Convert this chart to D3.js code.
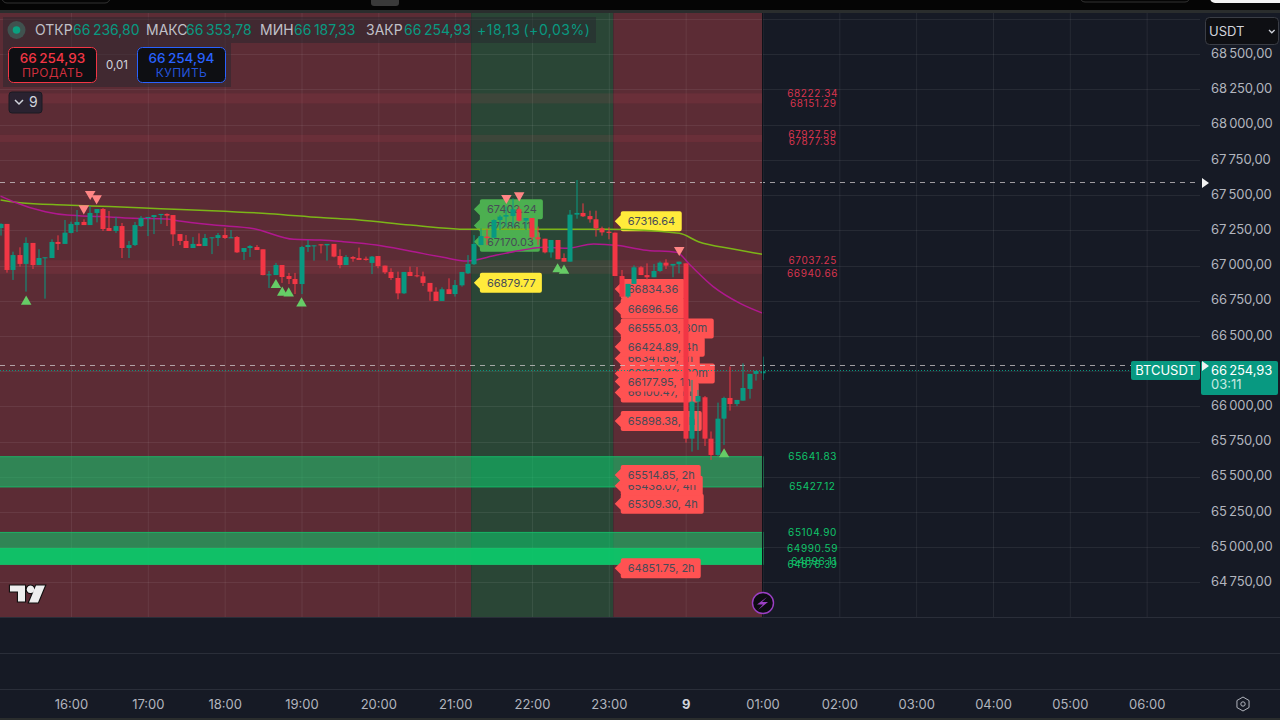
<!DOCTYPE html>
<html><head><meta charset="utf-8">
<script src="https://cdnjs.cloudflare.com/ajax/libs/d3/7.9.0/d3.min.js"></script>
<style>html,body{margin:0;padding:0;background:#000;overflow:hidden}svg{display:block}text{font-family:Inter,Roboto,sans-serif}</style>
</head><body><svg id="c" width="1280" height="720"></svg>
<script>
// Candles every 5 minutes, first one at 15:05
const opens=[67257,67286,66959,67065,67002,67151,66994,67044,67044,67158,
67144,67222,67278,67300,67278,67364,67392,67257,67236,67271,
67115,67136,67271,67328,67335,67349,67357,67349,67214,67165,
67115,67144,67129,67186,67186,67207,67186,67193,67087,67115,
67122,67106,66923,66923,66994,66916,66895,66859,67122,67129,
67141,67134,67144,67058,66994,67051,67044,67039,67009,67058,
66990,66945,66902,66793,66945,66921,66914,66867,66805,66739,
66822,66788,66850,66935,67000,67136,67196,67188,67314,67338,
67342,67390,67309,67328,67191,67181,67084,67172,67044,67018,
67352,67364,67342,67319,67255,67231,67224,66916,66770,66860,
66978,66923,66907,66952,67011,66990,67000,67006,65761,66024,
66055,65761,65645,65903,66050,66007,66031,66114,66221,66225];
const highs=[67290,67286,67089,67120,67191,67151,67106,67049,67177,67205,
67314,67302,67385,67319,67413,67392,67399,67378,67335,67293,
67165,67300,67342,67335,67349,67357,67361,67349,67214,67207,
67193,67219,67215,67191,67222,67257,67243,67200,67115,67136,
67136,67106,66952,67009,66994,66938,66938,67129,67172,67134,
67141,67144,67144,67106,67065,67058,67118,67054,67058,67058,
66990,66971,66947,66945,66983,66980,66947,66867,66836,66836,
66900,66888,66945,67065,67207,67255,67248,67319,67349,67409,
67468,67409,67328,67328,67267,67181,67172,67172,67077,67385,
67598,67432,67380,67380,67267,67262,67224,66959,66860,66992,
66987,67006,67002,67020,67035,67002,67018,67006,66178,66107,
66064,65812,66017,66059,66273,66036,66296,66221,66242,66344];
const lows=[67203,66940,66888,66983,66805,66966,66994,66755,67044,67101,
67144,67219,67229,67278,67278,67297,67236,67236,67222,67044,
67044,67129,67264,67200,67214,67286,67271,67129,67136,67115,
67115,67129,67129,67072,67129,67179,67186,67080,67030,67051,
67101,66921,66831,66923,66867,66859,66788,66788,67087,67025,
67077,67025,67049,66971,66994,67018,67030,67025,66930,66971,
66930,66888,66751,66788,66916,66907,66845,66741,66739,66739,
66788,66770,66841,66930,66994,67136,67136,67186,67243,67267,
67267,67302,67243,67172,67136,67077,67046,67035,67018,67018,
67323,67335,67295,67196,67203,67177,66916,66770,66760,66860,
66923,66888,66907,66945,66966,66907,66935,65733,65669,65681,
65709,65610,65638,65716,65960,65993,66031,66045,66173,66178];
const closes=[67286,66959,67065,67002,67151,66994,67044,67049,67158,67144,
67224,67286,67300,67278,67364,67392,67250,67236,67271,67115,
67136,67278,67328,67335,67349,67357,67345,67212,67165,67115,
67144,67129,67186,67191,67207,67186,67191,67084,67115,67129,
67101,66923,66928,66994,66909,66895,66859,67122,67136,67134,
67136,67144,67054,66994,67051,67039,67030,67030,67054,66987,
66942,66902,66793,66945,66916,66916,66867,66805,66739,66822,
66788,66852,66945,67002,67144,67200,67186,67314,67338,67349,
67390,67309,67328,67191,67177,67084,67172,67035,67018,67352,
67364,67340,67319,67255,67226,67222,66916,66770,66860,66978,
66923,66907,66952,67011,66990,67002,67018,65761,66024,66064,
65761,65645,65903,66050,66007,66036,66121,66221,66242,66240];

const maSlowBars=[0,3,10,17,25,33,42,50,56,64,73,83,95,106,109,114.4,119];
const maSlowVals=[67456,67437,67420,67409,67394,67380,67359,67331,67314,67278,67248,67248,67248,67219,67160,67108,67070];
const maFastBars=[0,2,7,10.4,15.6,20.8,26,27.6,33.3,39.6,45.8,50,53.5,58.7,63.9,69.1,72.8,77.5,81.6,84.8,88.4,92.6,96.5,100.4,105.6,107.7,111.3,115.5,119.1];
const maFastVals=[67484,67444,67373,67349,67338,67326,67321,67309,67278,67252,67177,67172,67160,67136,67094,67049,67023,67065,67101,67120,67113,67144,67132,67101,67084,66994,66841,66722,66651];

const priceTicks=[68500,68250,68000,67750,67500,67250,67000,66750,66500,66250,66000,65750,65500,65250,65000,64750];
const hourTicks=[60,120,180,240,300,360,420,480,540,600,660,720,780,840,900];
const hourLabels=["16:00","17:00","18:00","19:00","20:00","21:00","22:00","23:00","9","01:00","02:00","03:00","04:00","05:00","06:00"];

const redLevels=[68222.34,68151.29,67927.59,67877.35,67037.25,66940.66];
const redLevelX=[838,836.5,836.5,836.5,837,838];
const greenLevels=[65641.83,65427.12,65104.90,64990.59,64896.11,64876.39];
const greenLevelX=[837,835.5,837,838,837,837.5];

const redTags=[[64851.75,"2h"],[65309.30,"4h"],[65438.07,"4h"],[65514.85,"2h"],[65898.38,"1h"],[66100.47,"1h"],[66235.42,"30m"],[66177.95,"1h"],[66341.69,"1h"],[66424.89,"4h"],[66555.03,"30m"],[66696.56,""],[66834.36,""]];
const greenTags=[67170.03,67286.11,67402.24];
const yellowTags=[[74,66879.77],[96,67316.64]];
const guidePrices=[67590,66290];
const downBars=[13,14,15,79,81,106];
const downVals=[67397,67499,67468,67470,67489,67101];
const upBars=[4,43,44,45,47,87,88,113];
const upVals=[66734,66852,66798,66793,66722,66964,66954,65650];

const C={bgD:"#161a25",red:"#f23645",grn:"#089981",zoneR:"#5c2c35",zoneG:"#2a4636",txt:"#b2b5be"};
const svg=d3.select("#c");
const x=d3.scaleLinear().domain([60,600]).range([71,762.5]);
const y=d3.scaleLinear().domain([68500,64750]).range([53,581]);
const barX=i=>x(5+5*i);
const lvl=p=>y(p)+1.3; // levels and guides sit on the pixel row below the price
const fmt=d3.formatLocale({decimal:",",thousands:"\u2009",grouping:[3],currency:["",""]}).format(",.2f");

// page frame
svg.append("rect").attr("width",1280).attr("height",720).attr("fill",C.bgD);
svg.append("rect").attr("width",1280).attr("height",10).attr("fill","#050505");
svg.append("rect").attr("y",10).attr("width",1280).attr("height",3).attr("fill","#2a2d2d");
svg.append("rect").attr("x",2).attr("y",-8).attr("width",108).attr("height",11).attr("rx",5).attr("fill","none").attr("stroke","#333");
svg.append("rect").attr("x",371).attr("y",-5).attr("width",28).attr("height",11).attr("rx",3).attr("fill","#3a3a3a");
svg.append("rect").attr("x",1080).attr("y",-8).attr("width",110).attr("height",10).attr("rx",5).attr("fill","none").attr("stroke","#333");
svg.append("rect").attr("x",1210).attr("y",-8).attr("width",80).attr("height",11).attr("rx",5).attr("fill","#f2f2f2");

// time zones
const zones=[[0,372.5,C.zoneR],[372.5,483.5,C.zoneG],[483.5,600,C.zoneR]];
svg.append("g").selectAll("rect").data(zones).join("rect")
 .attr("x",d=>Math.max(0,x(d[0]))).attr("width",d=>x(d[1])-Math.max(0,x(d[0]))).attr("y",13).attr("height",604).attr("fill",d=>d[2]);

// grid
const grid=svg.append("g").attr("stroke","#fff").attr("stroke-opacity",.07);
grid.selectAll(".v").data(hourTicks).join("line").attr("x1",d=>x(d)+.5).attr("x2",d=>x(d)+.5).attr("y1",13).attr("y2",617);
grid.selectAll(".h").data([68750].concat(priceTicks)).join("line").attr("x1",0).attr("x2",1200).attr("y1",d=>Math.round(lvl(d))+.5).attr("y2",d=>Math.round(lvl(d))+.5);

// bands
const bands=[[68222.34,68151.29,"#ff5060",.09,null],[67927.59,67877.35,"#ff5060",.09,null],[67037.25,66940.66,"#ff5060",.09,null],
 [65641.83,65427.12,"#0cd070",.55,"#14c46c"],[65104.90,64990.59,"#0cd070",.55,"#14c46c"],[64990.59,64876.39,"#0cc86a",.95,"#14c46c"]];
svg.append("g").selectAll("rect").data(bands).join("rect")
 .attr("x",-3).attr("width",766).attr("y",d=>lvl(d[0])).attr("height",d=>lvl(d[1])-lvl(d[0]))
 .attr("fill",d=>d[2]).attr("fill-opacity",d=>d[3]).attr("stroke",d=>d[4]||"none").attr("stroke-width",.8);

// level captions
const lev=svg.append("g").attr("font-size",10).attr("letter-spacing",.6).attr("text-anchor","end");
lev.selectAll(".r").data(redLevels).join("text").attr("x",(d,i)=>redLevelX[i]).attr("y",d=>lvl(d)+3.5).attr("fill","#d8344e").text(d=>d.toFixed(2));
lev.selectAll(".g").data(greenLevels).join("text").attr("x",(d,i)=>greenLevelX[i]).attr("y",d=>lvl(d)+3.5).attr("fill","#10c46a").text(d=>d.toFixed(2));

// tags
function tag(g,barIndex,price,text,fill){
 const tip=barX(barIndex)-.5, yc=lvl(price)+.3, l=tip+6, h=10;
 const sel=g.append("g");
 const p=sel.append("path").attr("fill",fill);
 const t=sel.append("text").attr("x",tip+13).attr("y",yc+4).attr("font-size",11).attr("letter-spacing",0).attr("fill","#474b57").text(text);
 const r=l+Math.ceil(t.node().getComputedTextLength())+13;
 p.attr("d",`M${tip},${yc}L${l},${yc-6}L${l},${yc-h+2}Q${l},${yc-h} ${l+2},${yc-h}L${r-2},${yc-h}Q${r},${yc-h} ${r},${yc-h+2}L${r},${yc+h-2}Q${r},${yc+h} ${r-2},${yc+h}L${l+2},${yc+h}Q${l},${yc+h} ${l},${yc+h-2}L${l},${yc+6}Z`);
}
const tags=svg.append("g");
redTags.forEach(d=>tag(tags,96,d[0],d[1]?d[0].toFixed(2)+", "+d[1]:d[0].toFixed(2),"#ff5252"));
greenTags.forEach(d=>tag(tags,74,d,d.toFixed(2),"#4caf50"));
yellowTags.forEach(d=>tag(tags,d[0],d[1],d[1].toFixed(2),"#ffeb3b"));

// guides
const guides=svg.append("g").attr("fill","none");
guidePrices.forEach(p=>{
 guides.append("line").attr("x1",0).attr("x2",1200).attr("y1",Math.round(lvl(p))+.5).attr("y2",Math.round(lvl(p))+.5)
  .attr("stroke","#cfc9cc").attr("stroke-opacity",.75).attr("stroke-dasharray","5 5");
});
guides.append("line").attr("x1",0).attr("x2",1131).attr("y1",Math.round(lvl(66254.93))+.5).attr("y2",Math.round(lvl(66254.93))+.5)
 .attr("stroke",C.grn).attr("stroke-dasharray","1 2");

// moving averages
const maLine=(bars,vals,col)=>svg.append("path").attr("fill","none").attr("stroke",col).attr("stroke-width",1.5)
 .attr("d",d3.line().x((d,i)=>barX(bars[i])).y(d=>y(d)).curve(d3.curveMonotoneX)(vals));
maLine(maSlowBars,maSlowVals,"#7cb518");
maLine(maFastBars,maFastVals,"#b0188f");

// candles
const col=i=>closes[i]>=opens[i]?C.grn:C.red;
const cg=svg.append("g");
cg.selectAll(".w").data(opens).join("rect").attr("x",(d,i)=>Math.round(barX(i))-.5).attr("width",1)
 .attr("y",(d,i)=>y(highs[i])).attr("height",(d,i)=>Math.max(1,y(lows[i])-y(highs[i]))).attr("fill",(d,i)=>col(i));
cg.selectAll(".b").data(opens).join("rect").attr("x",(d,i)=>Math.round(barX(i))-2.5).attr("width",5)
 .attr("y",(d,i)=>y(Math.max(d,closes[i]))).attr("height",(d,i)=>Math.max(1,Math.abs(y(d)-y(closes[i])))).attr("fill",(d,i)=>col(i));

// markers
const tri=d3.symbol().type(d3.symbolTriangle).size(48);
svg.append("g").selectAll("path").data(upVals).join("path").attr("d",tri).attr("fill","#66cc66")
 .attr("transform",(d,i)=>`translate(${barX(upBars[i])},${y(d)})`);
svg.append("g").selectAll("path").data(downVals).join("path").attr("d",tri).attr("fill","#ff8585")
 .attr("transform",(d,i)=>`translate(${barX(downBars[i])},${y(d)}) rotate(180)`);

// lower panes
svg.append("rect").attr("y",617).attr("width",1280).attr("height",103).attr("fill",C.bgD);
[617,653,689].forEach(v=>svg.append("line").attr("x1",0).attr("x2",1280).attr("y1",v+.5).attr("y2",v+.5).attr("stroke","#2a2e39"));
svg.append("rect").attr("y",718).attr("width",1280).attr("height",2).attr("fill","#2a2d2d");
svg.append("line").attr("x1",762.5).attr("x2",762.5).attr("y1",13).attr("y2",617).attr("stroke","#0f121a");

// price axis
const ya=svg.append("g").attr("transform","translate(1205,0.3)")
 .call(d3.axisRight(y).tickValues(priceTicks).tickFormat(fmt).tickSize(0).tickPadding(6));
ya.select(".domain").remove();
ya.selectAll("text").attr("fill",C.txt).attr("font-size",13).attr("font-family","Inter,Roboto,sans-serif").attr("letter-spacing",-.1);

// time axis
const xa=svg.append("g").attr("transform","translate(0,689)")
 .call(d3.axisBottom(x).tickValues(hourTicks).tickFormat((d,i)=>hourLabels[i]).tickSize(0).tickPadding(11));
xa.select(".domain").remove();
xa.selectAll("text").attr("fill",(d,i)=>hourLabels[i]=="9"?"#d1d4dc":C.txt).attr("font-size",13).attr("font-weight",(d,i)=>hourLabels[i]=="9"?700:400).attr("font-family","Inter,Roboto,sans-serif");

// gear
const gear=svg.append("g").attr("transform","translate(1243,704)").attr("fill","none").attr("stroke",C.txt);
gear.append("path").attr("d",d3.lineRadial().curve(d3.curveLinearClosed)(d3.range(6).map(i=>[i*Math.PI/3,7])));
gear.append("circle").attr("r",2.2);

// legend panels
const ui=svg.append("g");
ui.append("rect").attr("x",3).attr("y",17).attr("width",593).attr("height",26).attr("fill","#26262e").attr("fill-opacity",.5);
ui.append("rect").attr("x",3).attr("y",43).attr("width",228).attr("height",44).attr("fill","#26262e").attr("fill-opacity",.5);
ui.append("circle").attr("cx",16.5).attr("cy",30).attr("r",9).attr("fill","#40524f");
ui.append("circle").attr("cx",16.5).attr("cy",30).attr("r",3.8).attr("fill","#0aa07f");
const legendRows=[[35,"ОТКР","#c0c0c8",0],[73,"66 236,80",C.grn,0],[146,"МАКС","#c0c0c8",0],[186,"66 353,78",C.grn,0],[260,"МИН","#c0c0c8",0],[294,"66 187,33",C.grn,0],[366,"ЗАКР","#c0c0c8",0],[404,"66 254,93",C.grn,0],[477,"+18,13 (+0,03%)",C.grn,.5]];
ui.selectAll(".lg").data(legendRows).join("text").attr("x",d=>d[0]).attr("y",35).attr("font-size",14).attr("letter-spacing",d=>d[3]).attr("fill",d=>d[2]).text(d=>d[1].replace(" ","\u2009"));
[[8,88,"#f23645","66\u2009254,93","ПРОДАТЬ"],[137,88,"#2962ff","66\u2009254,94","КУПИТЬ"]].forEach(b=>{
 ui.append("rect").attr("x",b[0]+.5).attr("y",47.5).attr("width",b[1]).attr("height",35).attr("rx",5).attr("fill","#0e0f13").attr("stroke",b[2]);
 ui.append("text").attr("x",b[0]+44.5).attr("y",63).attr("text-anchor","middle").attr("font-size",13.5).attr("font-weight",500).attr("fill",b[2]).text(b[3]);
 ui.append("text").attr("x",b[0]+44.5).attr("y",77).attr("text-anchor","middle").attr("font-size",12).attr("letter-spacing",.4).attr("fill",b[2]).attr("fill-opacity",.85).text(b[4]);
});
ui.append("text").attr("x",117).attr("y",69).attr("text-anchor","middle").attr("font-size",11.5).attr("fill","#d1d4dc").text("0,01");
ui.append("rect").attr("x",9).attr("y",92).attr("width",33).attr("height",21).attr("rx",3).attr("fill","#2a2230").attr("stroke","#1a1a22");
ui.append("path").attr("d","M15,100l4,4l4,-4").attr("fill","none").attr("stroke","#d1d4dc").attr("stroke-width",1.5);
ui.append("text").attr("x",29).attr("y",107).attr("font-size",14).attr("fill","#d1d4dc").text("9");

// currency selector
ui.append("rect").attr("x",1205.5).attr("y",17.5).attr("width",73).attr("height",27).attr("rx",4).attr("fill","#0e0f13").attr("stroke","#3a3d45");
ui.append("text").attr("x",1209).attr("y",35.5).attr("font-size",13).attr("fill","#d1d4dc").text("USDT");
ui.append("path").attr("d","M1269,30l2.8,2.8l2.8,-2.8").attr("fill","none").attr("stroke","#d1d4dc").attr("stroke-width",1.3);

// last price tags
ui.append("rect").attr("x",1131).attr("y",361).attr("width",69).attr("height",19).attr("rx",2).attr("fill",C.grn);
ui.append("text").attr("x",1165.5).attr("y",375).attr("text-anchor","middle").attr("font-size",13).attr("fill","#fff").text("BTCUSDT");
ui.append("rect").attr("x",1201).attr("y",361).attr("width",77).attr("height",34).attr("rx",2).attr("fill",C.grn);
ui.append("text").attr("x",1211).attr("y",375).attr("font-size",13).attr("letter-spacing",-.1).attr("fill","#fff").text("66\u2009254,93");
ui.append("text").attr("x",1211).attr("y",389).attr("font-size",13).attr("fill","#c9e9e1").text("03:11");
ui.selectAll(".pt").data([183,366]).join("path").attr("d",d=>`M1202,${d-5}L1209,${d}L1202,${d+5}Z`).attr("fill","#f2f2f2");

// logo and bolt
const logo=ui.append("g").attr("transform","translate(10,584.5)");
logo.append("path").attr("d","M0,1H15V17H8V7H0ZM20.5,1a3.8,3.8 0 1,0 .01,0M26,1H35L28,18H19Z")
 .attr("fill","#eee").attr("stroke","#111").attr("stroke-width",2.2).attr("paint-order","stroke");
ui.append("circle").attr("cx",763).attr("cy",603).attr("r",10.5).attr("fill","#0c0c12").attr("stroke","#9b3fc4").attr("stroke-width",1.4);
ui.append("path").attr("d","M767,597L757,604.5H763L758,610L768,602H762Z").attr("fill","#9b3fc4");
</script></body></html>
